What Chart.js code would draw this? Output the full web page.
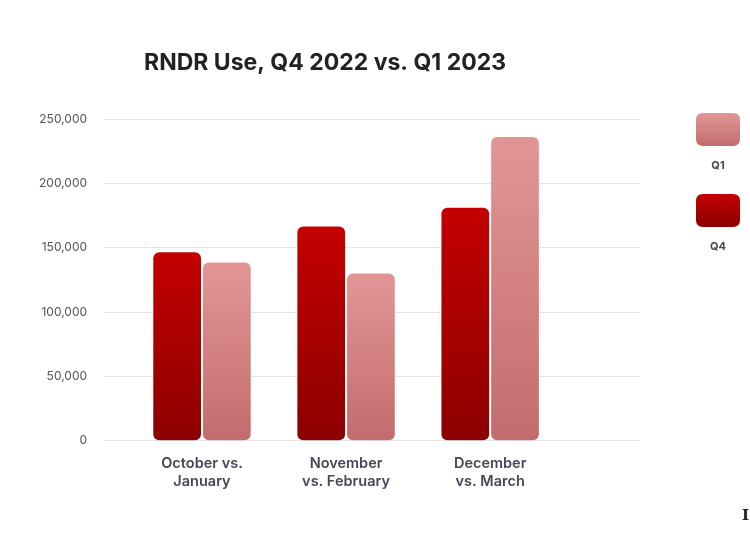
<!DOCTYPE html>
<html>
<head>
<meta charset="utf-8">
<script src="https://cdn.jsdelivr.net/npm/chart.js@4.4.0/dist/chart.umd.min.js"></script>
<style>
html,body{margin:0;padding:0;background:#fff;}
#wrap{width:750px;height:536px;position:relative;}
</style>
</head>
<body>
<div id="wrap"><canvas id="c"></canvas></div>
<script>
const titleText = 'RNDR Use, Q4 2022 vs. Q1 2023';
const categories = ['October vs.\nJanuary', 'November\nvs. February', 'December\nvs. March'];
const seriesNames = ['Q4', 'Q1'];
const q4Values = [146500, 166500, 181000];
const q1Values = [138500, 130000, 236000];
const yTicks = [0, 50000, 100000, 150000, 200000, 250000];

const FONT = 'Inter, "Noto Sans", sans-serif';
const palettes = {
  Q4: ['#c40000', '#8c0000'],
  Q1: ['#e39595', '#c26d6d']
};

function barGradient(ctx, name) {
  const chart = ctx.chart;
  const pal = palettes[name];
  if (!chart.chartArea || !ctx.raw) return pal[0];
  const ys = chart.scales.y;
  const top = ys.getPixelForValue(ctx.raw.y);
  const bot = ys.getPixelForValue(0);
  const g = chart.ctx.createLinearGradient(0, top, 0, bot);
  g.addColorStop(0, pal[0]);
  g.addColorStop(1, pal[1]);
  return g;
}

function rr(c, x, y, w, h, r) {
  c.beginPath();
  c.moveTo(x + r, y);
  c.lineTo(x + w - r, y);
  c.quadraticCurveTo(x + w, y, x + w, y + r);
  c.lineTo(x + w, y + h - r);
  c.quadraticCurveTo(x + w, y + h, x + w - r, y + h);
  c.lineTo(x + r, y + h);
  c.quadraticCurveTo(x, y + h, x, y + h - r);
  c.lineTo(x, y + r);
  c.quadraticCurveTo(x, y, x + r, y);
  c.closePath();
}

const decor = {
  id: 'decor',
  afterDraw(chart) {
    const c = chart.ctx;
    const a = chart.chartArea;
    c.save();
    // title
    c.fillStyle = '#222';
    c.font = 'bold 23px ' + FONT;
    c.textAlign = 'center';
    c.textBaseline = 'middle';
    c.fillText(titleText, a.left + 221, 63);
    // legend (Q1 on top, Q4 below)
    const order = ['Q1', 'Q4'];
    order.forEach((name, i) => {
      const x = a.right + 56, y = 113 + i * 81, w = 44, h = 33;
      const g = c.createLinearGradient(0, y, 0, y + h);
      g.addColorStop(0, palettes[name][0]);
      g.addColorStop(1, palettes[name][1]);
      c.fillStyle = g;
      rr(c, x, y, w, h, 7);
      c.fill();
      c.fillStyle = '#474755';
      c.font = 'bold 11px ' + FONT;
      c.fillText(name, x + w / 2, y + 53);
    });
    // cropped glyph at lower right edge
    c.fillStyle = '#222';
    c.font = 'bold 15px "DejaVu Serif", serif';
    c.textAlign = 'left';
    c.fillText('I', 742, 516);
    c.restore();
  }
};

const data = {
  datasets: [
    {
      label: seriesNames[0],
      data: q4Values.map((v, i) => ({ x: i, y: v })),
      backgroundColor: (ctx) => barGradient(ctx, 'Q4'),
      borderRadius: 6,
      borderSkipped: false,
      categoryPercentage: 0.69,
      barPercentage: 0.96
    },
    {
      label: seriesNames[1],
      data: q1Values.map((v, i) => ({ x: i, y: v })),
      backgroundColor: (ctx) => barGradient(ctx, 'Q1'),
      borderRadius: 6,
      borderSkipped: false,
      categoryPercentage: 0.69,
      barPercentage: 0.96
    }
  ]
};

new Chart(document.getElementById('c'), {
  type: 'bar',
  data,
  plugins: [decor],
  options: {
    responsive: true,
    maintainAspectRatio: false,
    animation: false,
    layout: { padding: { left: 22, right: 110, top: 119, bottom: 31 } },
    plugins: {
      legend: { display: false },
      title: { display: false },
      tooltip: { enabled: false }
    },
    scales: {
      x: {
        type: 'linear',
        offset: false,
        min: -0.68,
        max: 3.04,
        grid: { display: false, drawTicks: false },
        border: { display: false },
        ticks: {
          stepSize: 1,
          includeBounds: false,
          autoSkip: false,
          maxRotation: 0,
          padding: 14,
          color: '#474755',
          font: { family: FONT, size: 14.5, weight: '600', lineHeight: 1.25 },
          callback: (v) => (Number.isInteger(v) && categories[v]) ? categories[v].split('\n') : ''
        }
      },
      y: {
        min: 0,
        max: 250000,
        afterBuildTicks: (s) => { s.ticks = yTicks.map(v => ({ value: v })); },
        grid: { color: '#e6e6e6', drawTicks: false, lineWidth: 1 },
        border: { display: false },
        ticks: {
          padding: 17,
          color: '#555',
          font: { family: FONT, size: 12 },
          callback: (v) => v.toLocaleString('en-US')
        }
      }
    }
  }
});
</script>
</body>
</html>
